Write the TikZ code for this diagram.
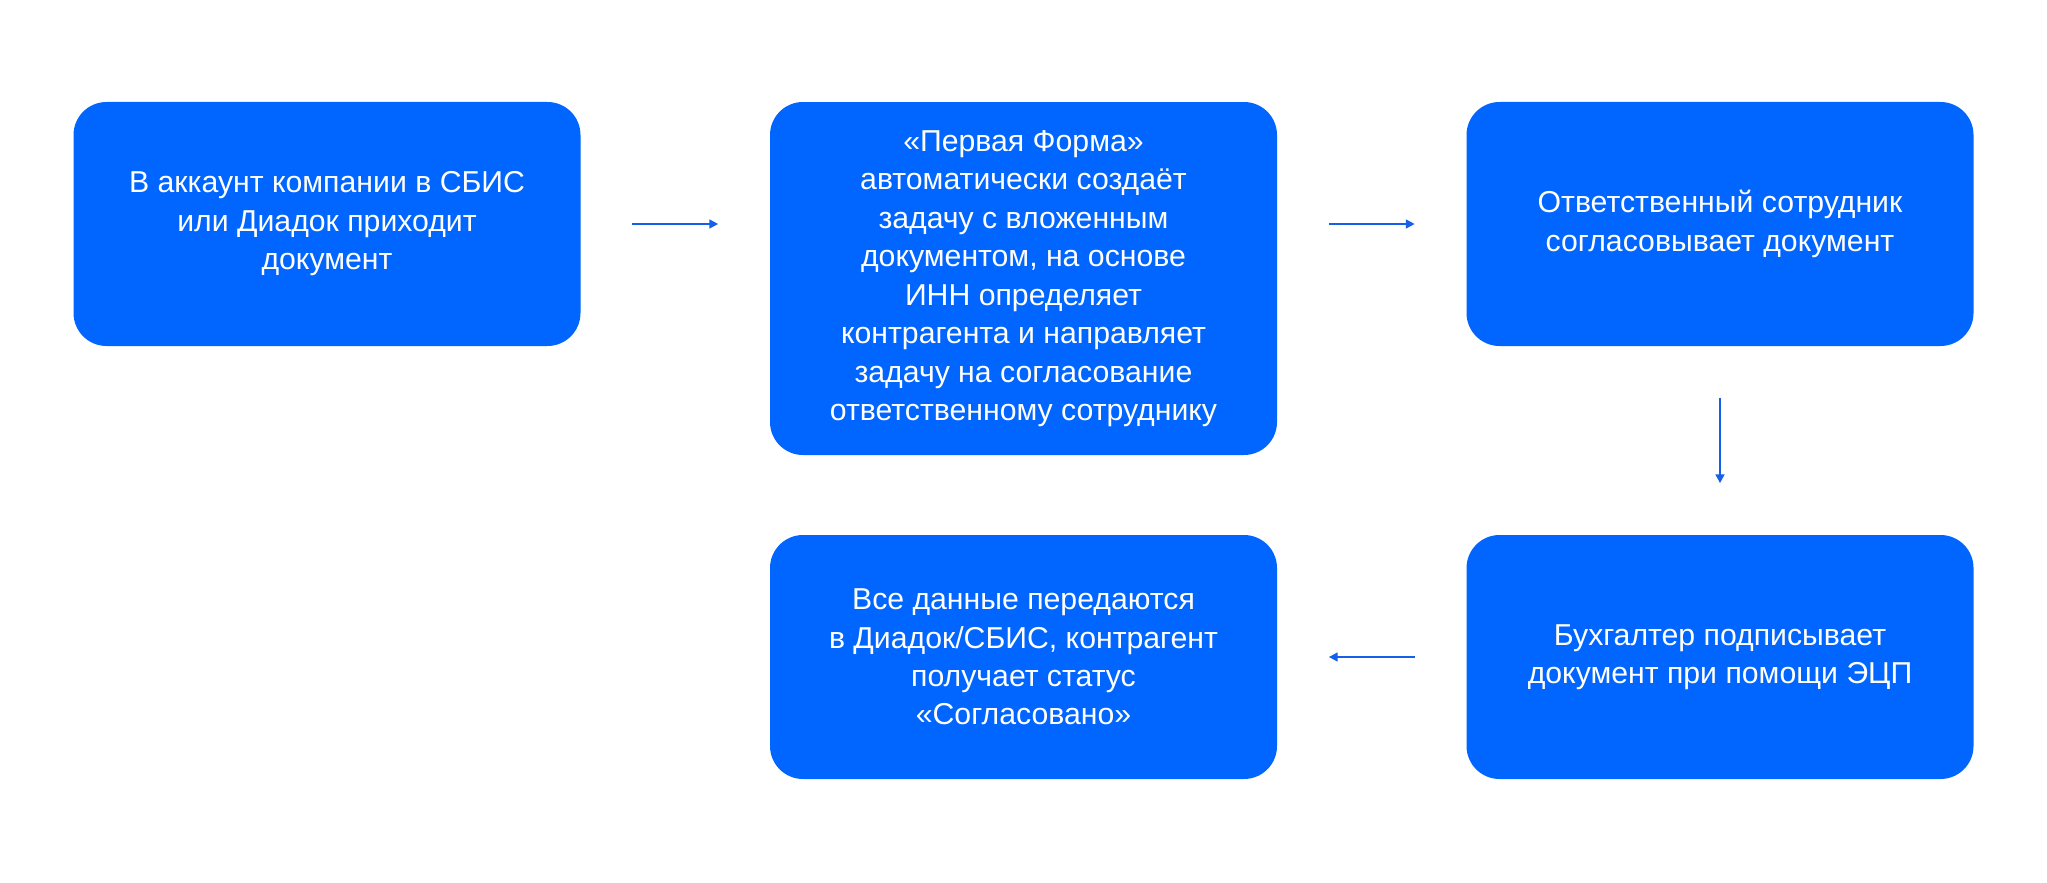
\documentclass[tikz,border=0pt]{standalone}
\usepackage{fontspec}
\setmainfont{Liberation Sans}
\usepackage{xcolor}
\usetikzlibrary{arrows.meta}
\definecolor{boxblue}{HTML}{0066FF}
\definecolor{arrowblue}{HTML}{1560E8}
\tikzset{stepbox/.style = {fill=boxblue, text=white, rounded corners=0.66cm, minimum width=10.14cm, minimum height=4.88cm, align=center, inner sep=0, font=\fontsize{17.2pt}{21.9pt}\selectfont}}
\tikzset{link/.style = {draw=arrowblue, line width=1.1pt, -{Triangle[length=5pt,width=5pt]}, shorten <=1.03cm, shorten >=1.03cm}}

\begin{document}
\begin{tikzpicture}
        \useasboundingbox [fill=white] (0,0) rectangle (40.94,-17.64);
        \node [stepbox] (incoming) at (6.54,-4.48) {В аккаунт компании в СБИС\\или Диадок приходит\\документ};
        \node [stepbox, minimum height=7.06cm] (task) at (20.47,-5.57) {«Первая Форма»\\автоматически создаёт\\задачу с вложенным\\документом, на основе\\ИНН определяет\\контрагента и направляет\\задачу на согласование\\ответственному сотруднику};
        \node [stepbox] (approve) at (34.4,-4.48) {Ответственный сотрудник\\согласовывает документ};
        \node [stepbox] (sign) at (34.4,-13.14) {Бухгалтер подписывает\\документ при помощи ЭЦП};
        \node [stepbox] (status) at (20.47,-13.14) {Все данные передаются\\в Диадок/СБИС, контрагент\\получает статус\\«Согласовано»};
        \draw [link] (incoming.east) -- (incoming.east -| task.west);
        \draw [link] (approve.west -| task.east) -- (approve.west);
        \draw [link] (approve.south) -- (sign.north);
        \draw [link] (sign.west) -- (status.east);
    \end{tikzpicture}
\end{document}
